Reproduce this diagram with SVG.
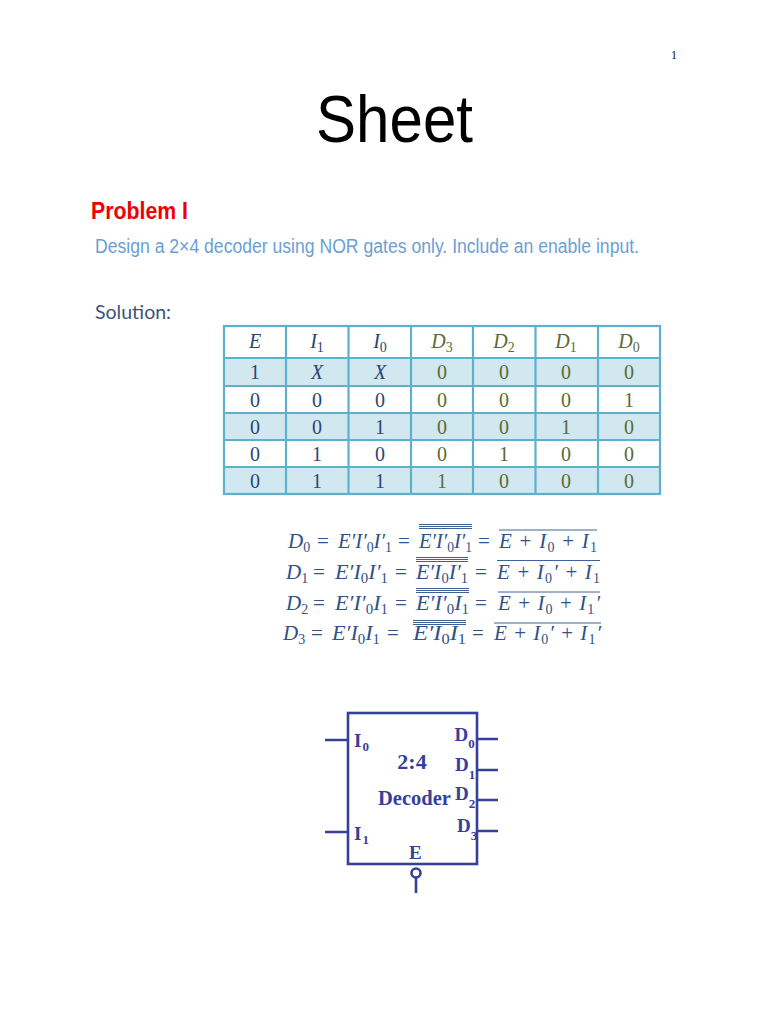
<svg xmlns="http://www.w3.org/2000/svg" width="768" height="1024" viewBox="0 0 768 1024">
<style>
text{font-family:"Liberation Serif",serif}
.a{font-family:"Liberation Sans",Arial,sans-serif}
.c{font-size:20px;text-anchor:middle;fill:#2a4675}
.g text{fill:#5c6a35}
.i{font-style:italic}
.t{fill:#d2e8f1}
.b{stroke:#5fb0cb;stroke-width:2.2;fill:none}
.e{font-size:21px;fill:#2f5288;font-style:italic}
.n{font-style:normal}
.s{font-size:14px;font-style:normal}
.o{stroke:#3f6296;stroke-width:1;fill:none}
.d{stroke:#35409a;stroke-width:2.6;fill:none}
.l{fill:#35409a;font-weight:bold;font-size:19px}
.u{font-size:13px;font-weight:bold}
</style>
<rect width="768" height="1024" fill="#fff"/>
<text id="page" x="674" y="59" text-anchor="middle" font-size="12" fill="#111">1</text>
<text id="title" class="a" x="316" y="142" font-size="67" fill="#000" textLength="157" lengthAdjust="spacingAndGlyphs">Sheet</text>
<text id="problem" class="a" x="91" y="218.500" font-size="23" font-weight="bold" fill="#f00000" textLength="97" lengthAdjust="spacingAndGlyphs">Problem I</text>
<text id="statement" class="a" x="95" y="252.500" font-size="19.500" fill="#6a9fd6" textLength="544" lengthAdjust="spacingAndGlyphs">Design a 2×4 decoder using NOR gates only. Include an enable input.</text>
<text id="solution" x="95" y="319" style="font-family:Lato,sans-serif;font-size:19.500px" fill="#3d5478" textLength="76" lengthAdjust="spacingAndGlyphs">Solution:</text>

<g id="truth-table">
<rect class="t" x="224" y="358" width="436" height="28"/>
<rect class="t" x="224" y="413" width="436" height="27"/>
<rect class="t" x="224" y="467" width="436" height="27"/>
<rect class="b" x="224" y="326" width="436" height="168"/>
<path class="b" d="M286 326V494M348.500 326V494M411 326V494M473 326V494M535.500 326V494M598 326V494M224 358H660M224 386H660M224 413H660M224 440H660M224 467H660"/>
<g class="c">
<text class="i" x="255" y="348">E</text>
<text class="i" x="317" y="348">I<tspan class="s" dy="4">1</tspan></text>
<text class="i" x="380" y="348">I<tspan class="s" dy="4">0</tspan></text>
<text x="255" y="379">1</text><text class="i" x="317" y="379">X</text><text class="i" x="380" y="379">X</text>
<text x="255" y="407">0</text><text x="317" y="407">0</text><text x="380" y="407">0</text>
<text x="255" y="434">0</text><text x="317" y="434">0</text><text x="380" y="434">1</text>
<text x="255" y="461">0</text><text x="317" y="461">1</text><text x="380" y="461">0</text>
<text x="255" y="488">0</text><text x="317" y="488">1</text><text x="380" y="488">1</text>
</g>
<g class="c g">
<text class="i" x="442" y="348">D<tspan class="s" dy="4">3</tspan></text>
<text class="i" x="504" y="348">D<tspan class="s" dy="4">2</tspan></text>
<text class="i" x="566" y="348">D<tspan class="s" dy="4">1</tspan></text>
<text class="i" x="629" y="348">D<tspan class="s" dy="4">0</tspan></text>
<text x="442" y="379">0</text><text x="504" y="379">0</text><text x="566" y="379">0</text><text x="629" y="379">0</text>
<text x="442" y="407">0</text><text x="504" y="407">0</text><text x="566" y="407">0</text><text x="629" y="407">1</text>
<text x="442" y="434">0</text><text x="504" y="434">0</text><text x="566" y="434">1</text><text x="629" y="434">0</text>
<text x="442" y="461">0</text><text x="504" y="461">1</text><text x="566" y="461">0</text><text x="629" y="461">0</text>
<text x="442" y="488">1</text><text x="504" y="488">0</text><text x="566" y="488">0</text><text x="629" y="488">0</text>
</g>
</g>

<g id="equations">
<g class="e">
<text x="288" y="548">D<tspan class="s" dy="4">0</tspan></text><text class="n" x="317" y="548">=</text>
<text x="338" y="548" textLength="54" lengthAdjust="spacingAndGlyphs">E′I′<tspan class="s" dy="4">0</tspan><tspan dy="-4">I′</tspan><tspan class="s" dy="4">1</tspan></text><text class="n" x="398" y="548">=</text>
<text x="419" y="548" textLength="53" lengthAdjust="spacingAndGlyphs">E′I′<tspan class="s" dy="4">0</tspan><tspan dy="-4">I′</tspan><tspan class="s" dy="4">1</tspan></text><text class="n" x="478" y="548">=</text>
<text x="499" y="548" textLength="98">E <tspan class="n">+</tspan> I<tspan class="s" dy="4">0</tspan><tspan dy="-4"> </tspan><tspan class="n">+</tspan> I<tspan class="s" dy="4">1</tspan></text>

<text x="286" y="579">D<tspan class="s" dy="4">1</tspan></text><text class="n" x="313" y="579">=</text>
<text x="335" y="579" textLength="53" lengthAdjust="spacingAndGlyphs">E′I<tspan class="s" dy="4">0</tspan><tspan dy="-4">I′</tspan><tspan class="s" dy="4">1</tspan></text><text class="n" x="395" y="579">=</text>
<text x="416" y="579" textLength="52" lengthAdjust="spacingAndGlyphs">E′I<tspan class="s" dy="4">0</tspan><tspan dy="-4">I′</tspan><tspan class="s" dy="4">1</tspan></text><text class="n" x="475" y="579">=</text>
<text x="497" y="579" textLength="103">E <tspan class="n">+</tspan> I<tspan class="s" dy="4">0</tspan><tspan dy="-4">′ </tspan><tspan class="n">+</tspan> I<tspan class="s" dy="4">1</tspan></text>

<text x="286" y="610">D<tspan class="s" dy="4">2</tspan></text><text class="n" x="313" y="610">=</text>
<text x="335" y="610" textLength="53" lengthAdjust="spacingAndGlyphs">E′I′<tspan class="s" dy="4">0</tspan><tspan dy="-4">I</tspan><tspan class="s" dy="4">1</tspan></text><text class="n" x="395" y="610">=</text>
<text x="416" y="610" textLength="53" lengthAdjust="spacingAndGlyphs">E′I′<tspan class="s" dy="4">0</tspan><tspan dy="-4">I</tspan><tspan class="s" dy="4">1</tspan></text><text class="n" x="475" y="610">=</text>
<text x="498" y="610" textLength="102">E <tspan class="n">+</tspan> I<tspan class="s" dy="4">0</tspan><tspan dy="-4"> </tspan><tspan class="n">+</tspan> I<tspan class="s" dy="4">1</tspan><tspan dy="-4">′</tspan></text>

<text x="283" y="640">D<tspan class="s" dy="4">3</tspan></text><text class="n" x="311" y="640">=</text>
<text x="332" y="640" textLength="48" lengthAdjust="spacingAndGlyphs">E′I<tspan class="s" dy="4">0</tspan><tspan dy="-4">I</tspan><tspan class="s" dy="4">1</tspan></text><text class="n" x="387" y="640">=</text>
<text x="413" y="640" textLength="53" lengthAdjust="spacingAndGlyphs">E′I<tspan class="s" dy="4">0</tspan><tspan dy="-4">I</tspan><tspan class="s" dy="4">1</tspan></text><text class="n" x="472" y="640">=</text>
<text x="494" y="640" textLength="107">E <tspan class="n">+</tspan> I<tspan class="s" dy="4">0</tspan><tspan dy="-4">′ </tspan><tspan class="n">+</tspan> I<tspan class="s" dy="4">1</tspan><tspan dy="-4">′</tspan></text>
</g>
<path class="o" d="M419 524.500H472M419 526.500H472M419 528.500H472M499 530H597M416 557.500H468M416 559.500H468M416 561.500H468M497 560.500H600M416 588.500H469M416 590.500H469M416 592.500H469M498 592H600M413 620.500H466M413 622.500H466M413 624.500H466M494 623H601"/>
</g>

<g id="connectors">
<path class="d" d="M325 740H348M325 832H348M477 739H498M477 770H498M477 800H498M477 831H498M416 878V893"/>
</g>
<g id="decoder">
<rect class="d" x="348" y="713" width="129" height="151"/>
<circle class="d" cx="416" cy="873" r="4.500"/>
<text class="l" x="354" y="747">I<tspan class="u" dy="4" dx="1">0</tspan></text>
<text class="l" x="354" y="840">I<tspan class="u" dy="4" dx="1">1</tspan></text>
<text class="l" x="454.500" y="741">D<tspan class="u" dy="7">0</tspan></text>
<text class="l" x="455" y="771">D<tspan class="u" dy="8">1</tspan></text>
<text class="l" x="455" y="800">D<tspan class="u" dy="8">2</tspan></text>
<text class="l" x="457" y="832">D<tspan class="u" dy="8">3</tspan></text>
<text class="l" x="409" y="859">E</text>
<text class="l" x="412" y="769" text-anchor="middle" style="font-size:22px">2:4</text>
<text class="l" x="378" y="805" style="font-size:21px" textLength="73" lengthAdjust="spacingAndGlyphs">Decoder</text>
</g>
</svg>
